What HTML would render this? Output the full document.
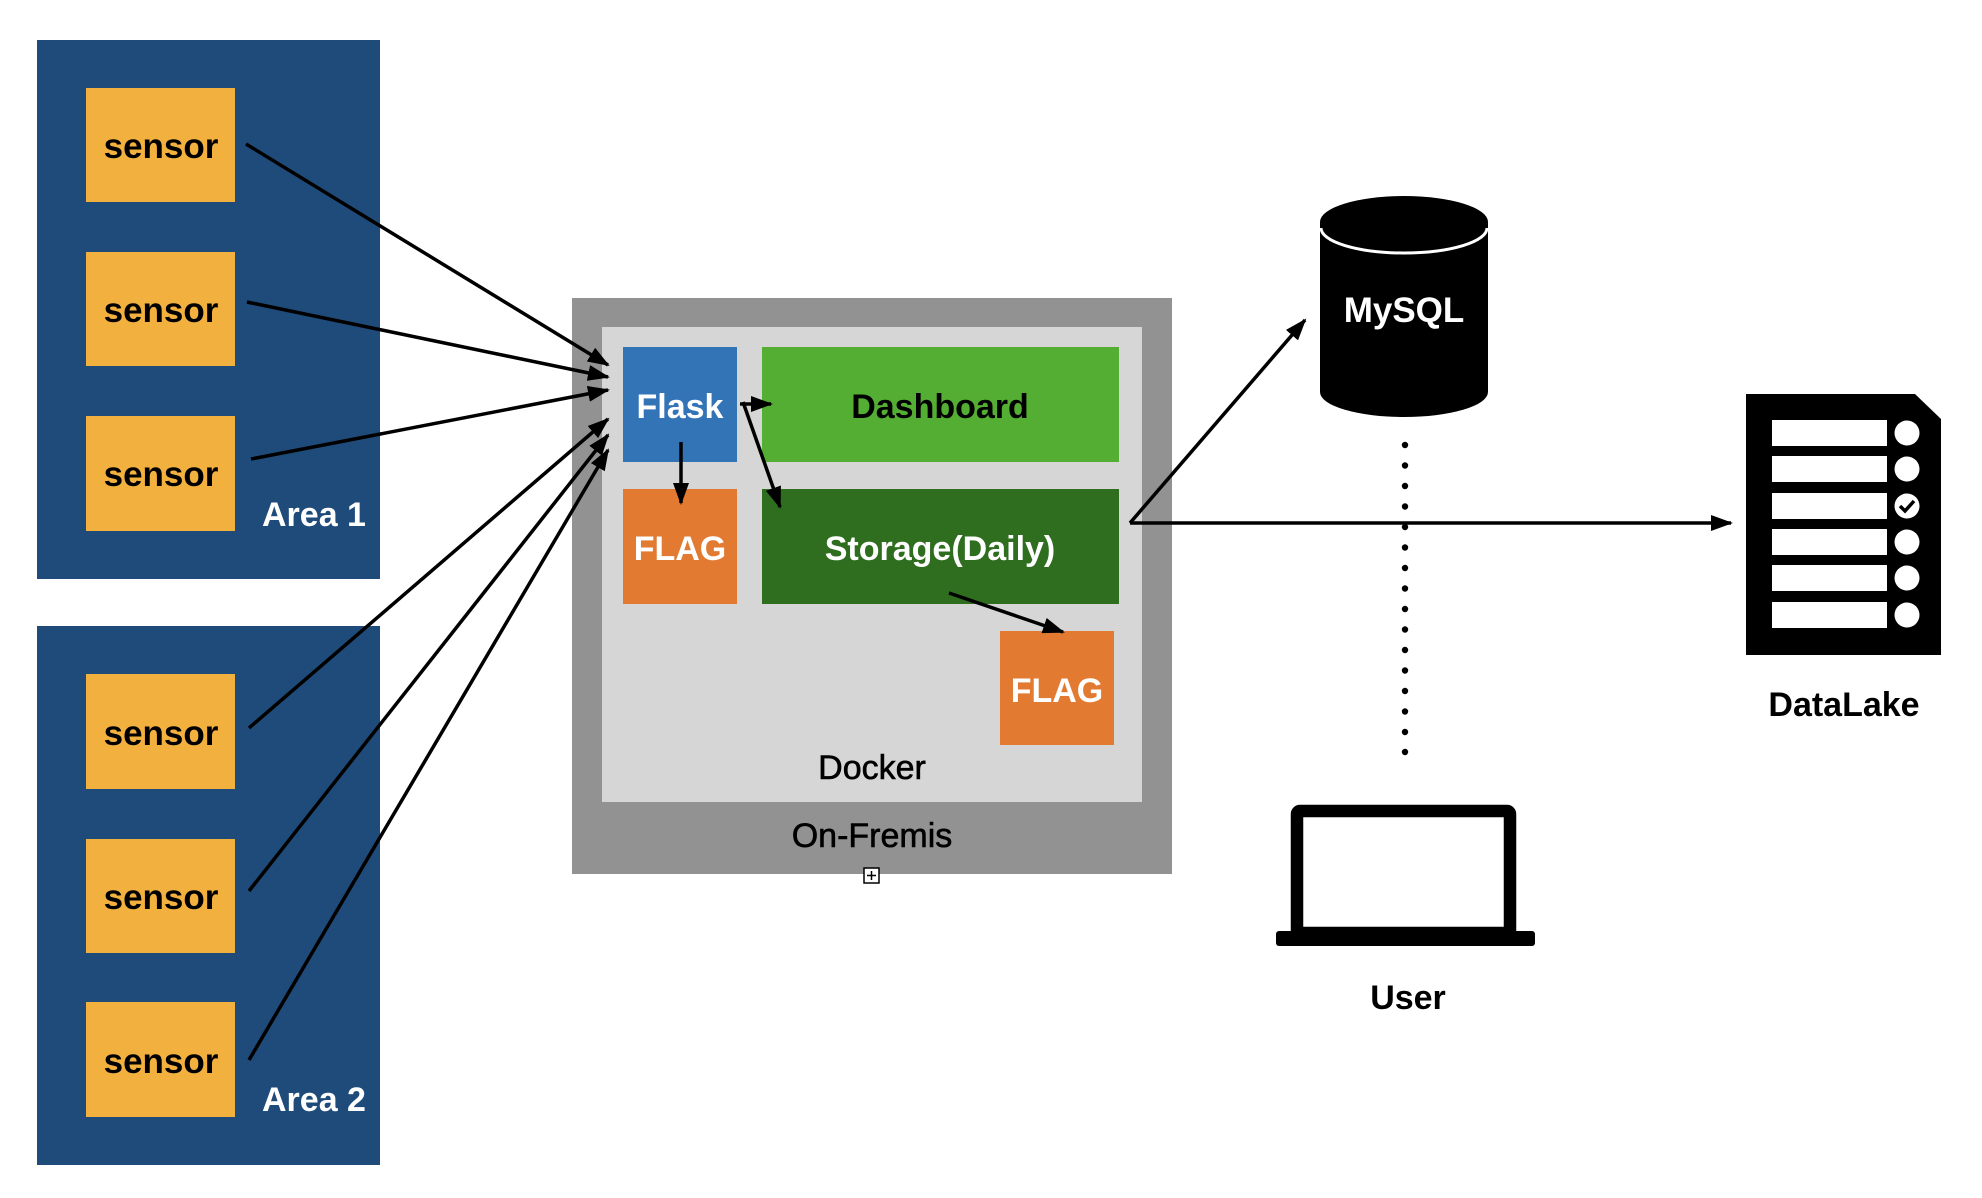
<!DOCTYPE html>
<html><head><meta charset="utf-8"><style>
html,body{margin:0;padding:0;background:#fff;}
svg{display:block;}
text{font-family:"Liberation Sans",Arial,sans-serif;}
</style></head><body>
<svg width="1982" height="1198" viewBox="0 0 1982 1198" xmlns="http://www.w3.org/2000/svg">
<defs>
<marker id="b" markerWidth="22" markerHeight="16" refX="20" refY="8" orient="auto" markerUnits="userSpaceOnUse" viewBox="0 0 22 16">
<path d="M0,0 L22,8 L0,16 z" fill="#000"/></marker>
</defs>
<rect x="37" y="40" width="343" height="539" fill="#1f4b7a"/>
<rect x="37" y="626" width="343" height="539" fill="#1f4b7a"/>
<g fill="#f2b03e">
<rect x="86" y="88" width="149" height="114"/>
<rect x="86" y="252" width="149" height="114"/>
<rect x="86" y="416" width="149" height="115"/>
<rect x="86" y="674" width="149" height="115"/>
<rect x="86" y="839" width="149" height="114"/>
<rect x="86" y="1002" width="149" height="115"/>
</g>
<g font-size="35" font-weight="bold" text-anchor="middle" fill="#000">
<text x="161" y="158">sensor</text>
<text x="161" y="322">sensor</text>
<text x="161" y="486">sensor</text>
<text x="161" y="745">sensor</text>
<text x="161" y="909">sensor</text>
<text x="161" y="1073">sensor</text>
</g>
<text x="262" y="526" font-size="34" font-weight="bold" fill="#fff">Area 1</text>
<text x="262" y="1111" font-size="34" font-weight="bold" fill="#fff">Area 2</text>

<rect x="572" y="298" width="600" height="576" fill="#929292"/>
<rect x="602" y="327" width="540" height="475" fill="#d6d6d6"/>
<rect x="623" y="347" width="114" height="115" fill="#3374b7"/>
<rect x="762" y="347" width="357" height="115" fill="#55ae34"/>
<rect x="623" y="489" width="114" height="115" fill="#e27a31"/>
<rect x="762" y="489" width="357" height="115" fill="#2f6e1f"/>
<rect x="1000" y="631" width="114" height="114" fill="#e27a31"/>
<g font-size="34" font-weight="bold" text-anchor="middle">
<text x="680" y="418" fill="#fff">Flask</text>
<text x="940" y="418" fill="#000">Dashboard</text>
<text x="680" y="560" fill="#fff">FLAG</text>
<text x="940" y="560" fill="#fff">Storage(Daily)</text>
<text x="1057" y="702" fill="#fff">FLAG</text>
</g>
<g font-size="34" text-anchor="middle" fill="#000">
<text x="872" y="779" stroke="#000" stroke-width="0.6">Docker</text>
<text x="872" y="847" stroke="#000" stroke-width="0.6">On-Fremis</text>
</g>
<rect x="864" y="868" width="15" height="15" fill="#fff" stroke="#000" stroke-width="1.5"/>
<path d="M871.5 871v9M867 875.5h9" stroke="#000" stroke-width="1.5"/>

<g stroke="#000" stroke-width="3.5" fill="none" marker-end="url(#b)">
<line x1="246" y1="144" x2="608" y2="365"/>
<line x1="247" y1="302" x2="608" y2="377"/>
<line x1="251" y1="459" x2="608" y2="390"/>
<line x1="249" y1="728" x2="608" y2="419"/>
<line x1="249" y1="891" x2="608" y2="435"/>
<line x1="249" y1="1060" x2="608" y2="450"/>
<line x1="740" y1="404" x2="771" y2="404"/>
<line x1="743" y1="402" x2="780" y2="507"/>
<line x1="681" y1="442" x2="681" y2="503"/>
<line x1="949" y1="593" x2="1063" y2="632"/>
<line x1="1130" y1="523" x2="1305" y2="320"/>
<line x1="1130" y1="523" x2="1731" y2="523"/>
</g>

<path d="M1320 222 A84 26 0 0 1 1488 222 L1488 392 A84 25 0 0 1 1320 392 Z" fill="#000"/>
<path d="M1321 228 A83 25 0 0 0 1487 228" stroke="#fff" stroke-width="3" fill="none"/>
<text x="1404" y="322" font-size="35" font-weight="bold" fill="#fff" text-anchor="middle">MySQL</text>

<g fill="#000">
<circle cx="1405" cy="445" r="3.2"/><circle cx="1405" cy="465.5" r="3.2"/><circle cx="1405" cy="486" r="3.2"/><circle cx="1405" cy="506.5" r="3.2"/><circle cx="1405" cy="527" r="3.2"/><circle cx="1405" cy="547.5" r="3.2"/><circle cx="1405" cy="568" r="3.2"/><circle cx="1405" cy="588.5" r="3.2"/><circle cx="1405" cy="609" r="3.2"/><circle cx="1405" cy="629.5" r="3.2"/><circle cx="1405" cy="650" r="3.2"/><circle cx="1405" cy="670.5" r="3.2"/><circle cx="1405" cy="691" r="3.2"/><circle cx="1405" cy="711.5" r="3.2"/><circle cx="1405" cy="732" r="3.2"/><circle cx="1405" cy="752" r="3.2"/>
</g>

<rect x="1297" y="811" width="213" height="122" fill="none" stroke="#000" stroke-width="12.5" rx="3"/>
<rect x="1276" y="931" width="259" height="15" rx="3" fill="#000"/>
<text x="1408" y="1009" font-size="34" font-weight="bold" text-anchor="middle">User</text>

<g transform="translate(-6,0)">
<path d="M1752 394 L1921 394 L1947 419 L1947 655 L1752 655 Z" fill="#000"/>
<g fill="#fff">
<rect x="1778" y="420" width="115" height="26"/><rect x="1778" y="456" width="115" height="26"/><rect x="1778" y="493" width="115" height="26"/><rect x="1778" y="529" width="115" height="26"/><rect x="1778" y="565" width="115" height="26"/><rect x="1778" y="602" width="115" height="26"/>
<circle cx="1913" cy="433" r="12.5"/><circle cx="1913" cy="469" r="12.5"/><circle cx="1913" cy="506" r="12.5"/><circle cx="1913" cy="542" r="12.5"/><circle cx="1913" cy="578" r="12.5"/><circle cx="1913" cy="615" r="12.5"/>
</g>
<path d="M1906 506 l5 5 l9 -10" stroke="#000" stroke-width="3.5" fill="none"/>
<text x="1850" y="716" font-size="34" font-weight="bold" text-anchor="middle">DataLake</text>
</g>
</svg>
</body></html>
